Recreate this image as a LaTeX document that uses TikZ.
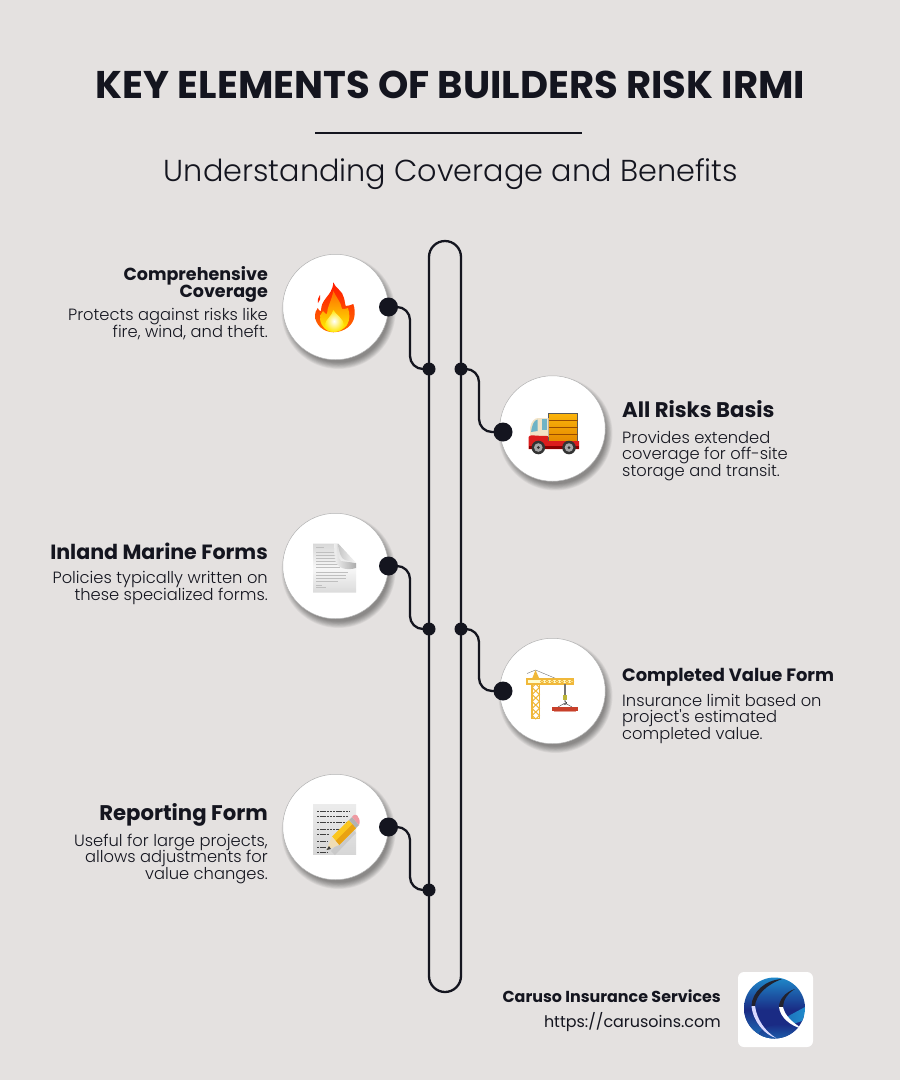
\documentclass[tikz,border=0pt]{standalone}
\usepackage{fontspec}
\setmainfont{Poppins}[BoldFont={Poppins Bold}]
\newfontfamily\plight{Poppins Light}
\usetikzlibrary{calc,shadings}
\definecolor{bgc}{HTML}{E4E1E0}
\definecolor{ink}{HTML}{14151F}
\definecolor{boxt}{HTML}{FBB40A}
\definecolor{boxb}{HTML}{E58A00}
\definecolor{cbeige}{HTML}{F2E3C6}
\definecolor{cglass}{HTML}{6FB3C6}
\definecolor{cred}{HTML}{DC1C1C}
\definecolor{cpy}{HTML}{FBC61E}
\definecolor{cpo}{HTML}{E9A213}
\definecolor{ctip}{HTML}{F0DDB4}
\definecolor{cera}{HTML}{EE9AA2}
\definecolor{cry}{HTML}{F0B83A}
\definecolor{cbeam}{HTML}{C8402A}
\definecolor{lgt}{HTML}{1F8ACB}
\definecolor{lgm}{HTML}{1A2B84}
\definecolor{lgb}{HTML}{1E74BC}
\definecolor{lgd}{HTML}{22222E}
\newcommand{\tightlines}{\lineskiplimit -30pt\relax}
\newcommand{\headsize}[1]{\bfseries\fontsize{#1}{17}\selectfont\tightlines}
\newcommand{\descsize}{\plight\fontsize{16.3}{16.5}\selectfont\tightlines}
\tikzset{
  x=1pt,y=-1pt,
  heading/.style={inner sep=0pt,text=ink,font=\headsize{#1}},
  descr/.style={inner sep=0pt,font=\descsize,text=ink},
  leftt/.style={anchor=base east,align=right},
  rightt/.style={anchor=base west,align=left},
  disc/.style={circle,fill=white,draw=black!30,line width=.5pt,minimum size=105.5pt,inner sep=0pt},
  bigdot/.style={circle,fill=ink,minimum size=19pt,inner sep=0pt},
  smalldot/.style={circle,fill=ink,minimum size=13pt,inner sep=0pt},
  conn/.style={draw=ink,line width=2.3pt,rounded corners=13pt},
  track/.style={draw=ink,line width=2.3pt,rounded corners=16pt},
}
\newcommand{\softshadow}[2]{%
  \foreach \rr in {57,56.2,...,50}{\fill[black,opacity=.05] (#1+3,#2+5) circle (\rr);}}
\begin{document}
\begin{tikzpicture}
\useasboundingbox (0,0) rectangle (900,1080);
\fill[bgc] (0,0) rectangle (900,1080);
% title
\node[inner sep=0pt,anchor=base,font=\bfseries\fontsize{38.6}{38}\selectfont,text=ink] (title) at (450.5,98) {KEY ELEMENTS OF BUILDERS RISK IRMI};
\coordinate (ruleL) at (315,132.5);
\coordinate (ruleR) at (582,132.5);
\draw[ink,line width=2pt] (ruleL) -- (ruleR);
\node[inner sep=0pt,anchor=base,font=\plight\fontsize{30.3}{30}\selectfont,text=ink] (subtitle) at (451,181) {Understanding Coverage and Benefits};
% track
\draw[track] (429,241) rectangle (461,992);
% shadows
\softshadow{335.5}{307}
\softshadow{552.5}{428.5}
\softshadow{335.5}{566}
\softshadow{552.5}{691}
\softshadow{335.5}{827}
% discs
\node[disc] (c1) at (335.5,307) {};
\node[disc] (c2) at (552.5,428.5) {};
\node[disc] (c3) at (335.5,566) {};
\node[disc] (c4) at (552.5,691) {};
\node[disc] (c5) at (335.5,827) {};
% dots
\node[bigdot] (b1) at (388.5,307) {};
\node[bigdot] (b2) at (503,432) {};
\node[bigdot] (b3) at (388.5,566) {};
\node[bigdot] (b4) at (503,691) {};
\node[bigdot] (b5) at (388.5,827) {};
\node[smalldot] (s1) at (429,369) {};
\node[smalldot] (s2) at (461,369) {};
\node[smalldot] (s3) at (429,629) {};
\node[smalldot] (s4) at (461,629) {};
\node[smalldot] (s5) at (429,890) {};
\coordinate (vl) at (410,0);
\coordinate (vr) at (479,0);
\draw[conn] (b1.center) -- (vl |- b1.center) -- (vl |- s1.center) -- (s1.center);
\draw[conn] (s2.center) -- (vr |- s2.center) -- (vr |- b2.center) -- (b2.center);
\draw[conn] (b3.center) -- (vl |- b3.center) -- (vl |- s3.center) -- (s3.center);
\draw[conn] (s4.center) -- (vr |- s4.center) -- (vr |- b4.center) -- (b4.center);
\draw[conn] (b5.center) -- (vl |- b5.center) -- (vl |- s5.center) -- (s5.center);
% texts left (anchor = baseline of the last line)
\node[heading=17.5,leftt] (h1) at (268,297) {Comprehensive\\Coverage};
\node[descr,leftt] (d1) at (268,337) {Protects against risks like\\fire, wind, and theft.};
\node[heading=20.6,leftt] (h3) at (268,559.5) {Inland Marine Forms};
\node[descr,leftt] (d3) at (268,600) {Policies typically written on\\these specialized forms.};
\node[heading=21.2,leftt] (h5) at (268,820) {Reporting Form};
\node[descr,leftt] (d5) at (268,879) {Useful for large projects,\\allows adjustments for\\value changes.};
% texts right
\node[heading=21.2,rightt] (h2) at (622,417) {All Risks Basis};
\node[descr,rightt] (d2) at (622,476) {Provides extended\\coverage for off-site\\storage and transit.};
\node[heading=17.9,rightt] (h4) at (622,681) {Completed Value Form};
\node[descr,rightt] (d4) at (622,739) {Insurance limit based on\\project's estimated\\completed value.};
% footer
\node[inner sep=0pt,anchor=base east,font=\bfseries\fontsize{15.9}{16}\selectfont,text=ink] (f1) at (721,1002) {Caruso Insurance Services};
\node[inner sep=0pt,anchor=base east,font=\fontsize{15.95}{16}\selectfont,text=ink] (f2) at (721,1027) {https://carusoins.com};
% flame
\begin{scope}[shift={(335,307)}]
\shade[top color=red!80!orange,bottom color=orange!85!red]
 (-1.7,-24.7) .. controls (0,-19) and (8,-16) .. (9,-9) .. controls (10,-5) and (10,-3) .. (10.7,-1)
 .. controls (13,-1) and (16,-2) .. (18.3,-3) .. controls (20,2) and (20,6) .. (19.3,10)
 .. controls (18,18) and (10,25) .. (-1.7,25.3) .. controls (-12,25) and (-19,18) .. (-20,9.7)
 .. controls (-20,6) and (-19,3) .. (-17.3,1) .. controls (-16.5,3) and (-15.5,4) .. (-14,4)
 .. controls (-14,-2) and (-12,-5) .. (-9,-9) .. controls (-6,-13) and (-2,-17) .. (-1.7,-24.7) -- cycle;
\fill[red!70!orange] (-17,-4) .. controls (-18,-8) and (-16,-10) .. (-15,-12) .. controls (-14,-9) and (-15,-6) .. (-17,-4) -- cycle;
\shade[top color=orange!85!red,bottom color=yellow!90!orange]
 (-1.7,-16) .. controls (1,-10) and (6,-5) .. (7,2) .. controls (9,2) and (11,2) .. (13,1)
 .. controls (15,7) and (15,13) .. (12,18) .. controls (8,23) and (3,25) .. (-1.7,25)
 .. controls (-8,25) and (-14,20) .. (-15,12) .. controls (-15,9) and (-14,6) .. (-12,4)
 .. controls (-11,6) and (-9,7) .. (-8,7) .. controls (-8,0) and (-3,-7) .. (-1.7,-16) -- cycle;
\shade[inner color=white,outer color=yellow!80!orange]
 (-1.7,3) .. controls (1,8) and (9,12) .. (9,18) .. controls (9,22) and (4,25) .. (-1.7,25)
 .. controls (-7,25) and (-11,22) .. (-10,17) .. controls (-9,12) and (-3,9) .. (-1.7,3) -- cycle;
\end{scope}
% truck
\begin{scope}
\shade[top color=boxt,bottom color=boxb,draw=gray!70!black,line width=.6pt] (548.5,413.5) rectangle (577.5,441);
\foreach \yy in {420.5,427,434}{\draw[orange!60!black,line width=.5pt] (548.5,\yy) -- (577.5,\yy);}
\fill[cbeige] (530,437) -- (530,428) .. controls (531,421) and (535,418) .. (538,418) -- (548.5,418) -- (548.5,437) -- cycle;
\fill[cglass] (531,432) .. controls (532,425) and (534,420) .. (537.5,419.5) -- (537.5,431) -- cycle;
\fill[cglass] (542,419) rectangle (546.5,430);
\fill[cred] (528.5,449) -- (528.5,437) .. controls (530,434) and (532,436) .. (548,436) -- (548,441) -- (579,441) -- (579,449) -- cycle;
\fill[red!55!black] (528.5,446) rectangle (579,449);
\foreach \xx in {538.3,569}{
  \fill[black!80] (\xx,447.5) circle (6.8);
  \fill[gray!70] (\xx,447.5) circle (4.3);
  \fill[gray!40!black] (\xx,447.5) circle (1.5);}
\end{scope}
% document
\begin{scope}
\shade[top color=gray!30,bottom color=gray!28,middle color=gray!6]
 (313,543.5) -- (338,543.5) -- (356,563) -- (356,592.5) -- (313,592.5) -- cycle;
\foreach \yy/\xe in {547/324,552/334,555/336,558/336,561/336,564/338,567/340,572/348,575/346,578/346,581/338,585/322,587/326}{
  \draw[gray!50,line width=.4pt] (316,\yy) -- (\xe,\yy);}
\shade[left color=gray!10,right color=gray!75,opacity=.85] (337,544) .. controls (337,552) and (338,558) .. (341,561) -- (356,563) -- (356,568) .. controls (346,571) and (337,568) .. (335,560) -- (334,544) -- cycle;
\shade[left color=gray!45,right color=gray!5] (338,543.5) .. controls (339,552) and (341,559) .. (345,560) .. controls (349,561) and (352,562) .. (356,563) -- cycle;
\end{scope}
% paper and pencil
\begin{scope}
\shade[top color=gray!15,bottom color=gray!32] (313,804) rectangle (356,854.5);
\foreach \yy/\xb in {811/350,816/348,822/347,829/340,834/329,841/328,847/326,852/328}{
  \draw[black!75,line width=.5pt,dash pattern=on 2.4pt off .8pt] (317,\yy) -- (\xb,\yy);}
\fill[black!25,opacity=.6] (331,851) -- (352,828) -- (356,833) -- (335,855) -- cycle;
\fill[cpy] (332,836.5) -- (349,820) -- (356,828) -- (339,845) -- cycle;
\fill[cpo] (335.5,841) -- (352.5,824) -- (356,828) -- (339,845) -- cycle;
\fill[ctip] (332,836.5) -- (339,845) -- (326.5,850) -- cycle;
\fill[black!75] (329,846) -- (326.5,850) -- (331,849) -- cycle;
\fill[gray!60] (349,820) -- (352,817) -- (359,825) -- (356,828) -- cycle;
\fill[cera] (352,817) .. controls (354,813) and (358,815) .. (358,817) .. controls (360,819) and (360,823) .. (359,825) -- cycle;
\end{scope}
% crane
\begin{scope}
\draw[black!55,line width=.4pt] (527,673.5) -- (535.5,670) -- (557,679);
\fill[cry] (532,679) -- (535.5,670) -- (539.5,679) -- cycle;
\draw[cry,line width=1.1pt] (532,679) rectangle (539.5,718.5);
\foreach \yy in {684,691,698,705,712}{
  \draw[cry,line width=1pt] (535.75,\yy) -- (539.5,\yy+3.5) -- (535.75,\yy+7) -- (532,\yy+3.5) -- cycle;}
\draw[cry,line width=1.1pt,fill=white!80!yellow] (527,679) rectangle (573.7,684);
\foreach \xx in {540,545,...,570}{\draw[cry,line width=.9pt] (\xx+2,681.5) circle (1.6);}
\draw[black!55,line width=.5pt] (564,684) -- (564,695);
\draw[black!55,line width=.5pt] (565.7,684) -- (565.7,695);
\fill[yellow!70!black] (563.2,695) rectangle (566.8,700);
\draw[black!80,line width=.8pt] (565,700) -- (565,701.5) .. controls (568,703) and (566,705) .. (563.5,704);
\draw[black!70,line width=.4pt] (565,703) -- (558,707);
\draw[black!70,line width=.4pt] (565,703) -- (572,707);
\fill[cbeam] (552,706.7) rectangle (578,710.5);
\fill[cbeam!50!white] (554,710.5) rectangle (576,711.5);
\end{scope}
% logo
\fill[white,rounded corners=6pt] (738,972) rectangle (813,1047);
\begin{scope}
\clip (774.5,1008) circle (30.5);
\shade[top color=lgt,bottom color=lgm] (744,977) rectangle (805,1010);
\fill[lgm] (744,1010) rectangle (805,1039);
\shade[top color=lgm,bottom color=lgb] (744,1010) -- (752,1010) .. controls (753,1022) and (765,1035) .. (776,1039) -- (744,1039) -- cycle;
\shade[top color=lgm,bottom color=lgb!70!lgm] (757,1036) .. controls (762,1026) and (775,1024) .. (790,1024) -- (805,1030) -- (805,1039) -- (757,1039) -- cycle;
\shade[left color=lgb,right color=lgt] (786.5,1017) -- (805,1007) -- (805,1020) -- (793,1024) -- cycle;
\fill[lgd] (782,979) .. controls (765,980) and (752,992) .. (751.5,1006) -- (755,1006) .. controls (756,995) and (766,985) .. (782,979) -- cycle;
\fill[white!85!blue] (751.5,1006) .. controls (753,1022) and (765,1035) .. (776,1038) .. controls (765,1031) and (757,1020) .. (755,1006) -- cycle;
\fill[lgd] (795,989) .. controls (785,992) and (779,1000) .. (779,1007) -- (783,1007) .. controls (783,1000) and (788,993) .. (795,989) -- cycle;
\fill[white] (779,1007) .. controls (780,1017) and (790,1026) .. (803,1029) .. controls (793,1023) and (785,1016) .. (783,1007) -- cycle;
\end{scope}
\end{tikzpicture}
\end{document}
